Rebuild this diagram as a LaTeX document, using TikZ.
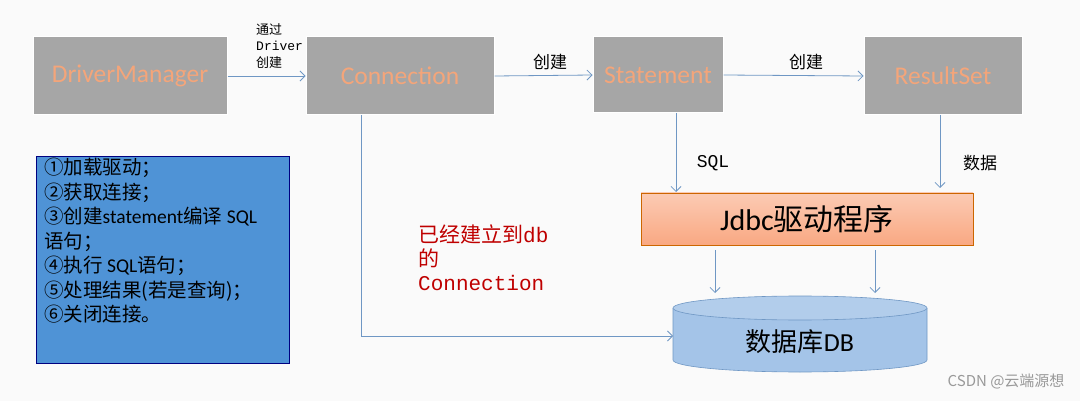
\documentclass[tikz,border=0pt]{standalone}
\usepackage{fontspec}
\setmainfont{Carlito}
\newfontfamily\cjk{Noto Sans CJK SC}
\newfontfamily\mono{Liberation Mono}
\usetikzlibrary{shapes.geometric,arrows.meta}
\definecolor{gbox}{HTML}{A6A6A6}
\definecolor{otext}{HTML}{F4A57A}
\definecolor{aline}{HTML}{6F97C4}
\definecolor{bluebox}{HTML}{4F93D6}
\definecolor{jdbc}{HTML}{F9A882}
\definecolor{db}{HTML}{A4C4E8}
\begin{document}
\begin{tikzpicture}[x=1pt,y=-1pt,
  gb/.style={fill=gbox,draw=white,line width=1pt,font=\fontsize{25.5}{28}\selectfont,text=otext},
  arr/.style={draw=aline,line width=0.8pt,-{Straight Barb[length=5pt,width=10pt]}},
  lab/.style={font=\fontsize{17}{19}\selectfont\cjk,align=left}]
\fill[white!96!gray] (0,0) rectangle (1080,401);
\useasboundingbox (0,0) rectangle (1080,401);
\node[gb,minimum width=194pt,minimum height=78pt] (dm) at (130,76) {DriverManager};
\node[gb,minimum width=188pt,minimum height=78pt] (cn) at (400,76) {Connection};
\node[gb,minimum width=130pt,minimum height=76pt] (st) at (658,75) {Statement};
\node[gb,minimum width=158pt,minimum height=78pt] (rs) at (943,76) {ResultSet};
\node[draw=orange!80!black,line width=0.5pt,top color=jdbc!60,bottom color=jdbc,minimum width=332pt,minimum height=52pt,font=\fontsize{30}{34}\selectfont] (jd) at (807,219) {Jdbc{\cjk 驱动程序}};
\node[fill=bluebox,draw=blue!50!black,line width=0.6pt,minimum width=253pt,minimum height=207pt] (bl) at (162.5,259.5) {};
\node[anchor=north west,align=left,font=\fontsize{19.5}{24.5}\selectfont,inner sep=0] (bt) at (44,158) {{\cjk ①加载驱动；}\\{\cjk ②获取连接；}\\{\cjk ③创建}statement{\cjk 编译} SQL\\{\cjk 语句；}\\{\cjk ④执行 }SQL{\cjk  语句；}\\{\cjk ⑤处理结果(若是查询)；}\\{\cjk ⑥关闭连接。}};
% cylinder
\fill[db] (673,308) -- (673,360) arc[start angle=180,end angle=360,x radius=127pt,y radius=12pt] -- (927,308) -- cycle;
\draw[aline,line width=0.6pt] (673,308) -- (673,360) arc[start angle=180,end angle=360,x radius=127pt,y radius=12pt] -- (927,308);
\draw[aline,fill=db!85!white,line width=0.6pt] (800,308) ellipse[x radius=127pt,y radius=12pt];
\coordinate (dbl) at (673,336);
\node[font=\fontsize{26}{28}\selectfont] (dbt) at (800,342) {{\cjk 数据库}DB};
\draw[arr] (dm.east) -- (cn.west);
\draw[arr] (cn.east) -- (st.west);
\draw[arr] (st.east) -- (rs.west);
\coordinate (s1) at (676,113); \coordinate (s2) at (676,192);
\draw[arr] (s1) -- (s2);
\coordinate (r1) at (940,115); \coordinate (r2) at (940,188);
\draw[arr] (r1) -- (r2);
\coordinate (j1) at (715,250); \coordinate (j2) at (715,293);
\coordinate (j3) at (875,250); \coordinate (j4) at (875,293);
\draw[arr] (j1) -- (j2); \draw[arr] (j3) -- (j4);
\coordinate (c1) at (361,115);
\draw[arr] (c1) -- (361,336) -- (dbl);
\node[lab,anchor=west,font=\fontsize{13}{16.5}\selectfont,inner sep=1pt] (l1) at (255,46) {{\cjk 通过}\\{\mono Driver}\\{\cjk 创建}};
\node[lab] (l2) at (550,62) {创建};
\node[lab] (l3) at (806,62) {创建};
\node[lab,font=\fontsize{18}{20}\selectfont\mono] (l4) at (713,163) {SQL};
\node[lab] (l5) at (980,163) {数据};
\node[anchor=north west,align=left,text=red!75!black,font=\fontsize{21}{24}\selectfont\mono,inner sep=0] (red) at (418,225) {{\cjk 已经建立到}db\\{\cjk 的}\\Connection};
\node[anchor=east,text=gray!80,font=\fontsize{15}{17}\selectfont\cjk] (wm) at (1068,382) {CSDN @云端源想};
\end{tikzpicture}
\end{document}
